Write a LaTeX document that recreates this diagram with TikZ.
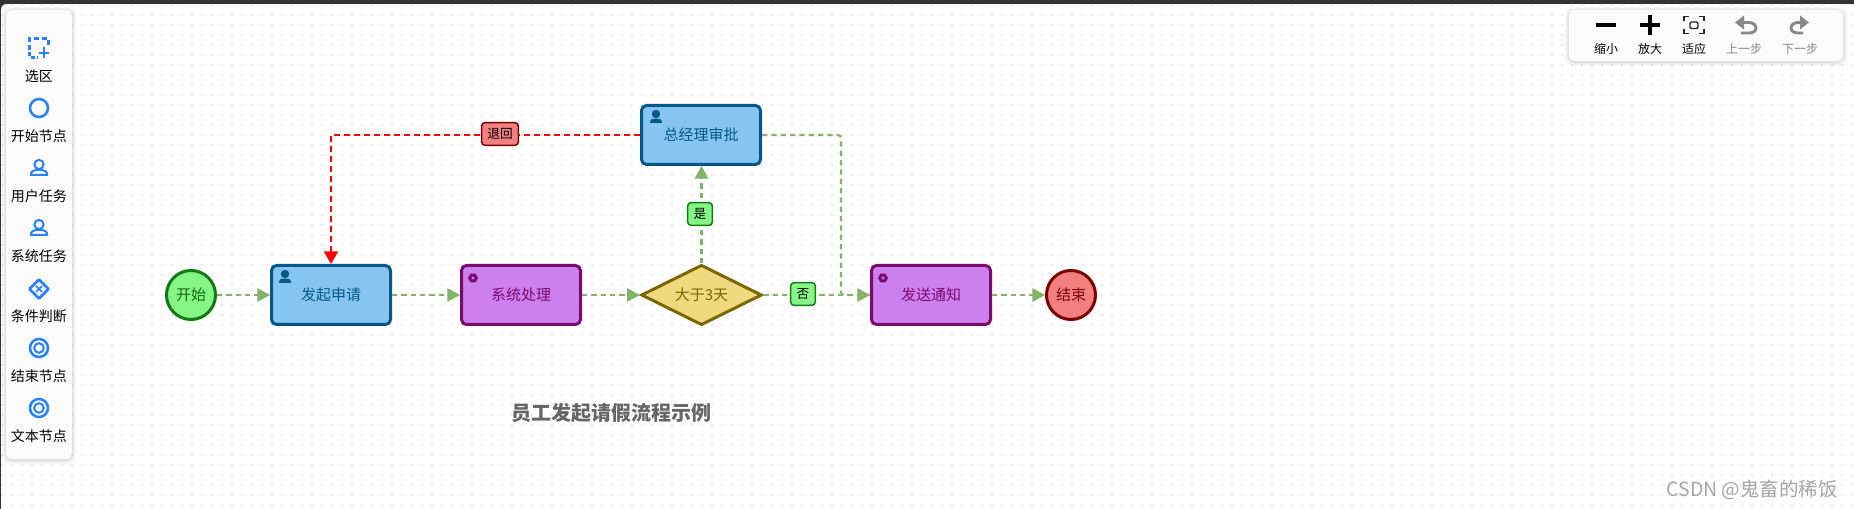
\documentclass[tikz,border=0pt]{standalone}
\usepackage{fontspec}
\setmainfont{Noto Sans CJK SC}
\usetikzlibrary{arrows.meta,shapes.geometric}
\definecolor{uiblue}{HTML}{2680FF}
\definecolor{edgegreen}{HTML}{82B366}
\definecolor{taskfill}{HTML}{85C5F0}
\definecolor{taskline}{HTML}{05578A}
\definecolor{sysfill}{HTML}{CC80EE}
\definecolor{sysline}{HTML}{7A0A6E}
\definecolor{okfill}{HTML}{85F585}
\definecolor{okline}{HTML}{127A12}
\definecolor{endfill}{HTML}{F28080}
\definecolor{endline}{HTML}{7A0000}
\definecolor{gwfill}{HTML}{F0D97F}
\definecolor{gwline}{HTML}{7D6600}
\definecolor{greyicon}{HTML}{888888}
\tikzset{
  x=0.75pt,y=-0.75pt,
  base/.style={inner sep=0pt,line width=2.25pt,align=center,font=\fontsize{11.25pt}{13pt}\selectfont},
  usertask/.style={base,rectangle,rounded corners=3.75pt,draw=taskline,fill=taskfill,text=taskline,minimum width=89.25pt,minimum height=44.25pt},
  systask/.style={base,rectangle,rounded corners=3.75pt,draw=sysline,fill=sysfill,text=sysline,minimum width=89.25pt,minimum height=44.25pt},
  startev/.style={base,circle,draw=okline,fill=okfill,text=okline!85!black,minimum size=36.75pt},
  endev/.style={base,circle,draw=endline,fill=endfill,text=endline,minimum size=36.75pt},
  gate/.style={base,diamond,aspect=2,draw=gwline,fill=gwfill,text=gwline,minimum width=90.5pt,minimum height=45.25pt},
  flow/.style={draw=edgegreen,line width=1.6pt,dash pattern=on 4pt off 3pt,-{Triangle[length=9.5pt,width=10pt,fill=edgegreen,sep=0pt]}},
  flowplain/.style={draw=edgegreen,line width=1.6pt,dash pattern=on 4pt off 3pt},
  backflow/.style={draw=red,line width=1.8pt,dash pattern=on 4.5pt off 3pt,-{Triangle[length=9.5pt,width=10.5pt,fill=red]}},
  lab/.style={inner sep=0pt,rounded corners=2.5pt,line width=1.1pt,minimum height=17pt,minimum width=18.5pt,text=black,font=\fontsize{9.5pt}{10pt}\selectfont},
  labgreen/.style={lab,draw=okline,fill=okfill},
  labred/.style={lab,draw=endline,fill=endfill,minimum width=27.5pt},
  tool/.style={inner sep=0pt,text=black,font=\fontsize{10.5pt}{12pt}\selectfont},
  toptool/.style={inner sep=0pt,text=black,font=\fontsize{9pt}{10pt}\selectfont},
  toptoolg/.style={toptool,text=greyicon},
  ic/.style={draw=uiblue,line width=1.5pt},
  usershape/.pic={
    \fill[taskline] (0,0) circle[radius=4.2];
    \fill[taskline] (-6,9) .. controls (-6,4.5) and (-3,4.5) .. (0,4.5) .. controls (3,4.5) and (6,4.5) .. (6,9) -- cycle;},
  gearshape/.pic={
    \fill[sysline,even odd rule] (5,0) -- (2.5,4.4) -- (-2.5,4.4) -- (-5,0) -- (-2.5,-4.4) -- (2.5,-4.4) -- cycle (0,0) circle[radius=1.8];},
  usermark/.pic={
    \draw[ic] (0,-3.5) circle[radius=4.6];
    \draw[ic] (-8,7) -- (8,7) .. controls (8.6,3.5) and (5,2) .. (3,2) -- (-3,2) .. controls (-5,2) and (-8.6,3.5) .. (-8,7) -- cycle;},
  ringmark/.pic={
    \draw[ic,line width=1.9pt] (0,0) circle[radius=9];
    \draw[ic,line width=1.5pt] (0,0) circle[radius=4.8];},
}
\newcommand{\panelbox}[4]{%
  \foreach \g/\op in {5/0.012,4/0.018,3/0.024,2/0.03,1/0.035}{%
    \fill[black,opacity=\op,rounded corners=6pt] (#1-\g,#2-\g+1) rectangle (#3+\g,#4+\g+1);}
  \fill[white,opacity=0.9,rounded corners=4pt] (#1,#2) rectangle (#3,#4);}
\begin{document}
\begin{tikzpicture}
\useasboundingbox (0,0) rectangle (1854,509);
\fill[white] (0,0) rectangle (1854,509);
% dotted canvas
\foreach \yy in {5,15,...,505}{
  \foreach \xx in {2,12,...,1852}{
    \fill[black!8] (\xx-1,\yy-1) rectangle (\xx+1,\yy+1);
  }
}
% window frame
\fill[black!80] (0,0) rectangle (1854,4.5);
\fill[black!80] (0,0) rectangle (1,509);
\fill[black!80] (0,4) -- (7,4) .. controls (3,4) and (1,6) .. (1,10) -- (0,10) -- cycle;
% left toolbar
\panelbox{6}{10}{72}{459}
\draw[ic,line width=1.7pt,dash pattern=on 4pt off 2pt] (29.5,50) -- (29.5,38.5) -- (48.5,38.5) -- (48.5,46);
\draw[ic,line width=1.7pt,dash pattern=on 3pt off 2pt] (29.5,52) -- (29.5,57.5) -- (38,57.5);
\draw[ic,line width=1.7pt] (39,53) -- (49,53) (44,47.5) -- (44,58);
\draw[ic,line width=1.9pt] (39,108) circle[radius=9];
\pic at (39,168) {usermark};
\pic at (39,228) {usermark};
\draw[ic,line width=1.9pt,line join=round] (39,279.5) -- (48.5,289) -- (39,298.5) -- (29.5,289) -- cycle;
\draw[ic,line width=1.2pt] (36,286) -- (42,292) (42,286) -- (36,292);
\pic at (39,348) {ringmark};
\pic at (39,408) {ringmark};
\node[tool] (t1) at (39,76) {选区};
\node[tool] (t2) at (39,136) {开始节点};
\node[tool] (t3) at (39,196) {用户任务};
\node[tool] (t4) at (39,256) {系统任务};
\node[tool] (t5) at (39,316) {条件判断};
\node[tool] (t6) at (39,376) {结束节点};
\node[tool] (t7) at (39,436) {文本节点};
% top-right toolbar
\panelbox{1569}{10}{1843}{61}
\draw[black,line width=2.4pt] (1596,25) -- (1616,25);
\draw[black,line width=2.4pt] (1640,25) -- (1660,25) (1650,15) -- (1650,35);
\draw[black!85,line width=1pt] (1684,21) -- (1684,16.5) -- (1689,16.5) (1699,16.5) -- (1704,16.5) -- (1704,21)
  (1704,29) -- (1704,33.5) -- (1699,33.5) (1689,33.5) -- (1684,33.5) -- (1684,29);
\draw[black!85,line width=1pt,rounded corners=1pt] (1690,22) rectangle (1698,28.5);
\fill[greyicon] (1735,22.5) -- (1744,15.5) -- (1744,29.5) -- cycle;
\draw[greyicon,line width=2.2pt] (1742,22.5) -- (1749,22.5) .. controls (1754,22.5) and (1756,26) .. (1756,28) .. controls (1756,31) and (1753,33) .. (1749,33) -- (1741,33);
\fill[greyicon] (1809,22.5) -- (1800,15.5) -- (1800,29.5) -- cycle;
\draw[greyicon,line width=2.2pt] (1802,22.5) -- (1798,22.5) .. controls (1793,22.5) and (1791,26) .. (1791,28) .. controls (1791,31) and (1794,33) .. (1798,33) -- (1803,33);
\node[toptool] (z1) at (1606,49) {缩小};
\node[toptool] (z2) at (1650,49) {放大};
\node[toptool] (z3) at (1694,49) {适应};
\node[toptoolg] (z4) at (1744,49) {上一步};
\node[toptoolg] (z5) at (1800,49) {下一步};
% nodes
\node[startev] (start) at (191,295) {开始};
\node[usertask] (apply) at (331,295) {发起申请};
\node[systask] (proc) at (521,295) {系统处理};
\node[gate] (gw) at (701.5,295) {大于3天};
\node[usertask] (boss) at (701,135) {总经理审批};
\node[systask] (notify) at (931,295) {发送通知};
\node[endev] (finish) at (1071,295) {结束};
\coordinate (turn) at (841,135);
% connectors
\draw[flow] (start) -- (apply);
\draw[flow] (apply) -- (proc);
\draw[flow] (proc) -- (gw);
\draw[flow] (gw.north) -- (gw.north |- boss.south);
\draw[flow] (gw) -- (notify);
\draw[flowplain,rounded corners=2.25pt] (boss.east) -- (turn) |- (notify.west);
\draw[flow] (notify) -- (finish);
\draw[backflow] (boss.west) -| (apply.north);
% connector labels
\node[labred] (back) at (500,134) {退回};
\node[labgreen] (yes) at (700,214) {是};
\node[labgreen] (no) at (803,294) {否};
% node icons
\pic at (285,274) {usershape};
\pic at (656,114) {usershape};
\pic at (473,278) {gearshape};
\pic at (883,278) {gearshape};
% title and watermark
\node[inner sep=0pt,text=black!60,font=\fontsize{15pt}{18pt}\selectfont\bfseries] (title) at (611,413) {员工发起请假流程示例};
\node[inner sep=0pt,text=black!35,font=\fontsize{14.6pt}{16pt}\selectfont,anchor=east] (mark) at (1838,490) {CSDN @鬼畜的稀饭};
\end{tikzpicture}
\end{document}
